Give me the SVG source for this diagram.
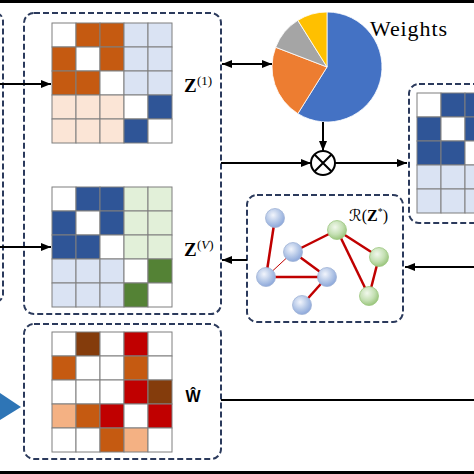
<svg xmlns="http://www.w3.org/2000/svg" width="474" height="474" viewBox="0 0 474 474">
<defs>
<style>
.box{fill:none;stroke:#2b3a5c;stroke-width:2;stroke-dasharray:6 3}
.m rect{stroke:#7f7f7f;stroke-width:1}
.w{fill:#ffffff}.o{fill:#c55a11}.lo{fill:#fbe5d6}.lb{fill:#dae3f3}.db{fill:#2f5597}
.lg{fill:#e2f0d9}.g{fill:#548235}.br{fill:#843c0c}.r{fill:#c00000}.so{fill:#f4b183}
.arr{stroke:#000;stroke-width:2;fill:none}
.edge{stroke:#c00000;stroke-width:2.5}
.serif{font-family:"Liberation Serif","DejaVu Serif",serif}
</style>
<marker id="ah" markerUnits="userSpaceOnUse" markerWidth="10" markerHeight="8" refX="10" refY="4" orient="auto-start-reverse">
<path d="M0,0 L10,4 L0,8 z" fill="#000"/>
</marker>
<radialGradient id="bn" cx="40%" cy="35%" r="65%">
<stop offset="0" stop-color="#f2f5fc"/><stop offset="0.6" stop-color="#b4c7e7"/><stop offset="1" stop-color="#8ea9db"/>
</radialGradient>
<radialGradient id="gn" cx="40%" cy="35%" r="65%">
<stop offset="0" stop-color="#f1f8ec"/><stop offset="0.6" stop-color="#c5e0b4"/><stop offset="1" stop-color="#9cc67f"/>
</radialGradient>
</defs>
<rect width="474" height="474" fill="#fff"/>
<rect x="0" y="0" width="474" height="3" fill="#000"/>
<rect x="0" y="471" width="474" height="3" fill="#000"/>

<g id="left-box"><rect class="box" x="-20" y="13" width="23" height="289" rx="8"/></g>

<g id="z-box">
<rect class="box" x="24" y="13" width="197" height="301" rx="10"/>
<g id="z1" class="m">
<rect class="w" x="52" y="23" width="24" height="24"/><rect class="o" x="76" y="23" width="24" height="24"/><rect class="o" x="100" y="23" width="24" height="24"/><rect class="lb" x="124" y="23" width="24" height="24"/><rect class="lb" x="148" y="23" width="24" height="24"/>
<rect class="o" x="52" y="47" width="24" height="24"/><rect class="w" x="76" y="47" width="24" height="24"/><rect class="o" x="100" y="47" width="24" height="24"/><rect class="lb" x="124" y="47" width="24" height="24"/><rect class="lb" x="148" y="47" width="24" height="24"/>
<rect class="o" x="52" y="71" width="24" height="24"/><rect class="o" x="76" y="71" width="24" height="24"/><rect class="w" x="100" y="71" width="24" height="24"/><rect class="lb" x="124" y="71" width="24" height="24"/><rect class="lb" x="148" y="71" width="24" height="24"/>
<rect class="lo" x="52" y="95" width="24" height="24"/><rect class="lo" x="76" y="95" width="24" height="24"/><rect class="lo" x="100" y="95" width="24" height="24"/><rect class="w" x="124" y="95" width="24" height="24"/><rect class="db" x="148" y="95" width="24" height="24"/>
<rect class="lo" x="52" y="119" width="24" height="24"/><rect class="lo" x="76" y="119" width="24" height="24"/><rect class="lo" x="100" y="119" width="24" height="24"/><rect class="db" x="124" y="119" width="24" height="24"/><rect class="w" x="148" y="119" width="24" height="24"/>
</g>
<text class="serif" x="184" y="92" font-size="19" font-weight="bold">Z</text>
<text class="serif" x="197" y="85" font-size="13">(1)</text>
<g id="zv" class="m">
<rect class="w" x="52" y="187" width="24" height="24"/><rect class="db" x="76" y="187" width="24" height="24"/><rect class="db" x="100" y="187" width="24" height="24"/><rect class="lg" x="124" y="187" width="24" height="24"/><rect class="lg" x="148" y="187" width="24" height="24"/>
<rect class="db" x="52" y="211" width="24" height="24"/><rect class="w" x="76" y="211" width="24" height="24"/><rect class="db" x="100" y="211" width="24" height="24"/><rect class="lg" x="124" y="211" width="24" height="24"/><rect class="lg" x="148" y="211" width="24" height="24"/>
<rect class="db" x="52" y="235" width="24" height="24"/><rect class="db" x="76" y="235" width="24" height="24"/><rect class="w" x="100" y="235" width="24" height="24"/><rect class="lg" x="124" y="235" width="24" height="24"/><rect class="lg" x="148" y="235" width="24" height="24"/>
<rect class="lb" x="52" y="259" width="24" height="24"/><rect class="lb" x="76" y="259" width="24" height="24"/><rect class="lb" x="100" y="259" width="24" height="24"/><rect class="w" x="124" y="259" width="24" height="24"/><rect class="g" x="148" y="259" width="24" height="24"/>
<rect class="lb" x="52" y="283" width="24" height="24"/><rect class="lb" x="76" y="283" width="24" height="24"/><rect class="lb" x="100" y="283" width="24" height="24"/><rect class="g" x="124" y="283" width="24" height="24"/><rect class="w" x="148" y="283" width="24" height="24"/>
</g>
<text class="serif" x="184" y="256" font-size="19" font-weight="bold">Z</text>
<text class="serif" x="197" y="249" font-size="13">(<tspan font-style="italic">V</tspan>)</text>
</g>

<g id="w-box">
<rect class="box" x="24" y="324" width="197" height="135" rx="10"/>
<g class="m">
<rect class="w" x="52" y="332" width="24" height="24"/><rect class="br" x="76" y="332" width="24" height="24"/><rect class="w" x="100" y="332" width="24" height="24"/><rect class="r" x="124" y="332" width="24" height="24"/><rect class="w" x="148" y="332" width="24" height="24"/>
<rect class="o" x="52" y="356" width="24" height="24"/><rect class="w" x="76" y="356" width="24" height="24"/><rect class="w" x="100" y="356" width="24" height="24"/><rect class="o" x="124" y="356" width="24" height="24"/><rect class="w" x="148" y="356" width="24" height="24"/>
<rect class="w" x="52" y="380" width="24" height="24"/><rect class="w" x="76" y="380" width="24" height="24"/><rect class="w" x="100" y="380" width="24" height="24"/><rect class="r" x="124" y="380" width="24" height="24"/><rect class="br" x="148" y="380" width="24" height="24"/>
<rect class="so" x="52" y="404" width="24" height="24"/><rect class="o" x="76" y="404" width="24" height="24"/><rect class="r" x="100" y="404" width="24" height="24"/><rect class="w" x="124" y="404" width="24" height="24"/><rect class="r" x="148" y="404" width="24" height="24"/>
<rect class="w" x="52" y="428" width="24" height="24"/><rect class="w" x="76" y="428" width="24" height="24"/><rect class="o" x="100" y="428" width="24" height="24"/><rect class="so" x="124" y="428" width="24" height="24"/><rect class="w" x="148" y="428" width="24" height="24"/>
</g>
<text x="193" y="402" font-family="Liberation Sans, sans-serif" font-weight="bold" font-size="16" text-anchor="middle">Ŵ</text>
</g>

<g id="pie">
<path d="M327,67 L327,12 A55,55 0 1,1 297.85,113.64 Z" fill="#4472c4" stroke="#fff" stroke-width="0.8"/>
<path d="M327,67 L297.85,113.64 A55,55 0 0,1 275.65,47.29 Z" fill="#ed7d31" stroke="#fff" stroke-width="0.8"/>
<path d="M327,67 L275.65,47.29 A55,55 0 0,1 297.85,20.36 Z" fill="#a5a5a5" stroke="#fff" stroke-width="0.8"/>
<path d="M327,67 L297.85,20.36 A55,55 0 0,1 327,12 Z" fill="#ffc000" stroke="#fff" stroke-width="0.8"/>
<text class="serif" x="370" y="36" font-size="22" textLength="77">Weights</text>
</g>

<g id="otimes">
<circle cx="323" cy="163" r="12" fill="#fff" stroke="#000" stroke-width="2"/>
<path d="M314.5,154.5 L331.5,171.5 M331.5,154.5 L314.5,171.5" stroke="#000" stroke-width="2"/>
</g>

<g id="right-box">
<rect class="box" x="409" y="84" width="90" height="139" rx="10"/>
<g class="m">
<rect class="w" x="417" y="93" width="24" height="24"/><rect class="db" x="441" y="93" width="24" height="24"/><rect class="db" x="465" y="93" width="24" height="24"/>
<rect class="db" x="417" y="117" width="24" height="24"/><rect class="w" x="441" y="117" width="24" height="24"/><rect class="db" x="465" y="117" width="24" height="24"/>
<rect class="db" x="417" y="141" width="24" height="24"/><rect class="db" x="441" y="141" width="24" height="24"/><rect class="w" x="465" y="141" width="24" height="24"/>
<rect class="lb" x="417" y="165" width="24" height="24"/><rect class="lb" x="441" y="165" width="24" height="24"/><rect class="lb" x="465" y="165" width="24" height="24"/>
<rect class="lb" x="417" y="189" width="24" height="24"/><rect class="lb" x="441" y="189" width="24" height="24"/><rect class="lb" x="465" y="189" width="24" height="24"/>
</g>
</g>

<g id="graph-box">
<rect class="box" x="247" y="195" width="156" height="127" rx="10"/>
<g id="graph-edges">
<line class="edge" x1="275" y1="218" x2="266" y2="277"/>
<line class="edge" x1="293" y1="252" x2="337" y2="230"/>
<line class="edge" x1="293" y1="252" x2="327" y2="277"/>
<line x1="293" y1="252" x2="266" y2="277" stroke="#c00000" stroke-width="1"/>
<line class="edge" x1="266" y1="277" x2="327" y2="277"/>
<line class="edge" x1="327" y1="277" x2="302" y2="305"/>
<line class="edge" x1="337" y1="230" x2="379" y2="257"/>
<line class="edge" x1="337" y1="230" x2="369" y2="296"/>
<line class="edge" x1="379" y1="257" x2="369" y2="296"/>
</g>
<g id="graph-nodes" stroke="#9fb3d6" stroke-width="0.8">
<circle cx="275" cy="218" r="9.5" fill="url(#bn)"/>
<circle cx="293" cy="252" r="9.5" fill="url(#bn)"/>
<circle cx="266" cy="277" r="9.5" fill="url(#bn)"/>
<circle cx="327" cy="277" r="9.5" fill="url(#bn)"/>
<circle cx="302" cy="305" r="9.5" fill="url(#bn)"/>
<circle cx="337" cy="230" r="9.5" fill="url(#gn)" stroke="#9cc67f"/>
<circle cx="379" cy="257" r="9.5" fill="url(#gn)" stroke="#9cc67f"/>
<circle cx="369" cy="296" r="9.5" fill="url(#gn)" stroke="#9cc67f"/>
</g>
<text x="349" y="221" font-size="16" class="serif"><tspan font-family="DejaVu Sans, serif">ℛ</tspan>(<tspan font-weight="bold">Z</tspan><tspan dy="-6" font-size="10">*</tspan><tspan dy="6">)</tspan></text>
</g>

<g id="triangle"><polygon points="0,393 21,407 0,420" fill="#2e75b6"/></g>

<g id="connectors">
<line class="arr" x1="0" y1="84" x2="51" y2="84" marker-end="url(#ah)"/>
<line class="arr" x1="0" y1="247" x2="51" y2="247" marker-end="url(#ah)"/>
<line class="arr" x1="222" y1="64" x2="272" y2="64" marker-start="url(#ah)" marker-end="url(#ah)"/>
<line class="arr" x1="323" y1="122" x2="323" y2="151" marker-end="url(#ah)"/>
<line class="arr" x1="221" y1="163" x2="311" y2="163" marker-end="url(#ah)"/>
<line class="arr" x1="335" y1="163" x2="407" y2="163" marker-end="url(#ah)"/>
<line class="arr" x1="474" y1="267" x2="405" y2="267" marker-end="url(#ah)"/>
<line class="arr" x1="247" y1="260" x2="222" y2="260" marker-end="url(#ah)"/>
<line class="arr" x1="221" y1="400" x2="474" y2="400"/>
</g>
</svg>
